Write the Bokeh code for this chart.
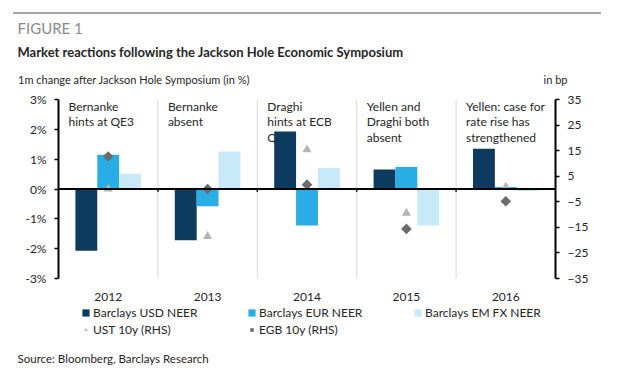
import math
from bokeh.plotting import figure
from bokeh.models import (Range1d, LinearAxis, FixedTicker, PrintfTickFormatter, Span,
                          Legend, LegendItem, Title, ColumnDataSource)
from bokeh.transform import dodge
from bokeh.core.properties import value
from bokeh.embed import file_html
from bokeh.resources import INLINE

# ---------------- data ----------------
years = ["2012", "2013", "2014", "2015", "2016"]
usd_neer = [-2.07, -1.72, 1.93, 0.65, 1.35]
eur_neer = [1.15, -0.58, -1.22, 0.74, 0.07]
em_neer = [0.51, 1.26, 0.70, -1.22, -0.07]
ust_10y = [0.0, -18.5, 15.4, -9.4, 0.8]
egb_10y = [12.7, 0.0, 1.7, -15.6, -4.8]
events = ["Bernanke\nhints at QE3", "Bernanke\nabsent", "Draghi\nhints at ECB\nQE",
          "Yellen and\nDraghi both\nabsent", "Yellen: case for\nrate rise has\nstrengthened"]
pct_ticks = [-3, -2, -1, 0, 1, 2, 3]
bp_ticks = [-35, -25, -15, -5, 5, 15, 25, 35]
subtitle = "1m change after Jackson Hole Symposium (in %)"
rhs_unit = "in bp"

FONT = "Lato"
C_USD, C_EUR, C_EM = "#0d3a5f", "#29ade6", "#c8e9f8"
C_UST, C_EGB = "#b4b4b4", "#6b6b6b"
TXT = "#262626"

# geometry: the value scale [-3, 3] takes PLOT_PX pixels; the frame is extended
# below it by LEG_PX pixels to hold the category labels and the legend.
PLOT_PX, LEG_PX = 179, 71
PCT_LO, PCT_HI = pct_ticks[0], pct_ticks[-1]
BP_LO, BP_HI = bp_ticks[0], bp_ticks[-1]
ext = (PCT_HI - PCT_LO) * LEG_PX / PLOT_PX
y_lo = PCT_LO - ext
bp_lo = BP_LO - ext * (BP_HI - BP_LO) / (PCT_HI - PCT_LO)

n = len(years)
centers = [i + 0.5 for i in range(n)]
starts = [float(i) for i in range(n)]
bounds = [float(i) for i in range(1, n)]

src = ColumnDataSource(dict(x=centers, start=starts, usd=usd_neer, eur=eur_neer, em=em_neer,
                            ust=ust_10y, egb=egb_10y, ev=events, yr=years))

p = figure(width=588, height=355, x_range=Range1d(0, n), y_range=Range1d(y_lo, PCT_HI),
           output_backend="svg", toolbar_location=None, x_axis_type=None, y_axis_type=None,
           min_border_left=45, min_border_right=46, min_border_top=85, min_border_bottom=20)
p.outline_line_color = None
p.styles = {"margin-top": "12px", "margin-left": "13px", "border-top": "2px solid #a6a6a6"}
p.extra_y_ranges = {"bp": Range1d(bp_lo, BP_HI)}

# separators between the years
p.segment(x0="bnd", x1="bnd", y0=PCT_LO, y1=PCT_HI, source=ColumnDataSource(dict(bnd=bounds)),
          line_color="#d9d9d9", line_width=1)

# event annotations (drawn before bars, so bars sit on top)
p.text(x="start", y=PCT_HI, text="ev", source=src, x_offset=10, y_offset=-1,
       text_font=value(FONT), text_font_size="12px", text_color=TXT,
       text_baseline="top", text_align="left", text_line_height=1.05)

w = 0.22
r_usd = p.vbar(x=dodge("x", -w, range=p.x_range), top="usd", bottom=0, width=w, source=src,
               fill_color=C_USD, line_color=None)
r_eur = p.vbar(x="x", top="eur", bottom=0, width=w, source=src,
               fill_color=C_EUR, line_color=None)
r_em = p.vbar(x=dodge("x", w, range=p.x_range), top="em", bottom=0, width=w, source=src,
              fill_color=C_EM, line_color=None)

p.add_layout(Span(location=0, dimension="width", line_color="black", line_width=2))
p.segment(x0="bnd", x1="bnd", y0=0, y1=-0.09, source=ColumnDataSource(dict(bnd=bounds)),
          line_color="black", line_width=1.5)

r_ust = p.scatter(x="x", y="ust", source=src, y_range_name="bp", marker="triangle",
                  size=9, fill_color=C_UST, line_color=None)
r_egb = p.scatter(x="x", y="egb", source=src, y_range_name="bp", marker="square",
                  angle=math.pi / 4, size=7.5, fill_color=C_EGB, line_color=None)

# category labels under the value scale
p.text(x="x", y=PCT_LO, text="yr", source=src, y_offset=18,
       text_font=value(FONT), text_font_size="12px", text_color=TXT,
       text_baseline="middle", text_align="center")

# axes
def style_axis(ax):
    ax.axis_line_color = "black"
    ax.axis_line_width = 2
    ax.major_tick_line_color = "black"
    ax.major_tick_line_width = 1.5
    ax.major_tick_in = 0
    ax.major_tick_out = 4
    ax.minor_tick_line_color = None
    ax.major_label_text_font = FONT
    ax.major_label_text_font_size = "12px"
    ax.major_label_text_color = TXT
    ax.major_label_standoff = 8

yl = LinearAxis(ticker=FixedTicker(ticks=pct_ticks), formatter=PrintfTickFormatter(format="%d%%"),
                bounds=(PCT_LO, PCT_HI))
style_axis(yl)
p.add_layout(yl, "left")

yr = LinearAxis(y_range_name="bp", ticker=FixedTicker(ticks=bp_ticks), bounds=(BP_LO, BP_HI))
style_axis(yr)
p.add_layout(yr, "right")

# header row just above the plot: left-axis unit caption and right-axis unit
sub_pos = 0.76
xa = LinearAxis(ticker=FixedTicker(ticks=[sub_pos, float(n)]),
                major_label_overrides={sub_pos: subtitle, float(n): rhs_unit})
xa.axis_line_color = None
xa.major_tick_line_color = None
xa.minor_tick_line_color = None
xa.major_tick_out = 0
xa.major_tick_in = 0
xa.major_label_standoff = 14
xa.major_label_text_font = FONT
xa.major_label_text_font_size = "11px"
xa.major_label_text_color = TXT
p.add_layout(xa, "above")

def make_legend(items, vy):
    lg = Legend(items=items, orientation="horizontal", location=(23, vy))
    lg.margin = 0
    lg.padding = 2
    lg.spacing = 3
    lg.label_standoff = 3
    lg.glyph_width = 9
    lg.glyph_height = 9
    lg.label_width = 151
    lg.label_height = 17
    lg.label_text_font = FONT
    lg.label_text_font_size = "12px"
    lg.label_text_color = TXT
    lg.border_line_color = None
    lg.background_fill_alpha = 0
    return lg

p.add_layout(make_legend([
    LegendItem(label="Barclays USD NEER", renderers=[r_usd]),
    LegendItem(label="Barclays EUR NEER", renderers=[r_eur]),
    LegendItem(label="Barclays EM FX NEER", renderers=[r_em]),
], 28), "center")
p.add_layout(make_legend([
    LegendItem(label="UST 10y (RHS)", renderers=[r_ust]),
    LegendItem(label="EGB 10y (RHS)", renderers=[r_egb]),
], 11), "center")

p.add_layout(Title(text="Source: Bloomberg, Barclays Research", align="left", offset=-41,
                   text_font=FONT, text_font_size="11.5px", text_font_style="normal",
                   text_color=TXT, standoff=1), "below")

# header titles (first added = closest to the plot)
p.add_layout(Title(text="Market reactions following the Jackson Hole Economic Symposium",
                   align="left", offset=-41, text_font=FONT, text_font_size="13px",
                   text_font_style="bold", text_color=TXT, standoff=20), "above")
fig_label = Title(text="FIGURE 1", align="left", offset=-41, text_font=FONT,
                  text_font_size="15px", text_font_style="normal", text_color="#8a8a8a",
                  standoff=0)
try:
    fig_label.standoff = -11   # tuck the figure number close to the title
except Exception:
    pass
p.add_layout(fig_label, "above")

open("out.html", "w").write(file_html(p, INLINE))
